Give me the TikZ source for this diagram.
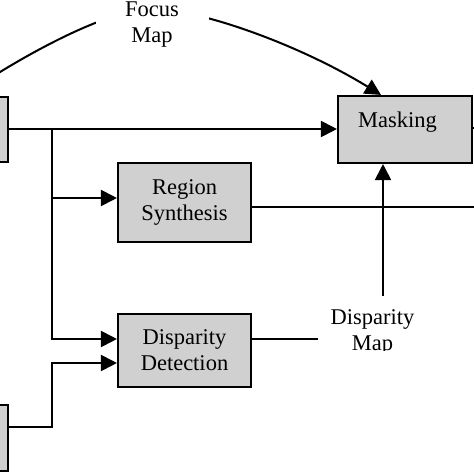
\documentclass[tikz,border=0pt]{standalone}
\usepackage{fontspec}
\setmainfont{Liberation Serif}
\usetikzlibrary{arrows.meta}
\definecolor{boxgray}{RGB}{208,208,208}
\begin{document}
\begin{tikzpicture}[x=1pt,y=-1pt,
  txt/.style={font=\fontsize{22.5}{26}\selectfont},
  box/.style={draw=black, fill=boxgray, line width=2.1pt, minimum width=133pt,
    minimum height=79pt, inner sep=0pt, align=center, txt},
  lbl/.style={align=center, inner sep=0pt, txt},
  conn/.style={line width=2pt},
  arr/.style={conn, -{Triangle[length=16pt,width=16pt]}}]
\useasboundingbox (0,0) rectangle (474,474);
\clip (0,0) rectangle (474,474);
% boxes
\node[box, minimum width=90pt, minimum height=65pt] (inA) at (-37,129.5) {};
\node[box, minimum width=90pt, minimum height=66pt] (inB) at (-37,438) {};
\node[box, minimum width=134pt, minimum height=67pt] (mask) at (405,129.5)
  {\raisebox{7pt}[15pt][5pt]{Masking}\hspace{15pt}};
\node[box] (rs) at (184.5,202.5) {Region\\Synthesis};
\node[box, minimum height=73pt] (dd) at (184.5,350.5) {Disparity\\Detection};
% coordinates
\coordinate (j1) at (52,129);
\coordinate (j3) at (52,363);
\coordinate (rsout) at (480,207);
\coordinate (mout) at (480,127.5);
\coordinate (dmL) at (318,339);
\coordinate (dmT) at (383,296);
\coordinate (fstart) at (-6,75.75);
% connectors
\draw[arr] ([yshift=0.5pt]inA.east) -- ([yshift=0.5pt]mask.west);
\draw[arr] (j1) |- ([yshift=11.5pt]dd.west);
\draw[arr] (j1 |- 0,198) -- ([yshift=4.5pt]rs.west);
\draw[arr] ([yshift=11pt]inB.east) -| (j3) -- ([yshift=-12.5pt]dd.west);
\draw[conn] ([yshift=-4.5pt]rs.east) -- (rsout);
\draw[conn] ([yshift=2pt]mask.east) -- (mout);
\draw[conn] ([yshift=11.5pt]dd.east) -- (dmL);
\draw[arr] (dmT) -- (dmT |- mask.south);
\draw[arr] (fstart) .. controls (36,49.5) and (110,9) .. (152,9)
  .. controls (200,9) and (300,45) .. ([xshift=-24pt]mask.north);
% labels
\node[lbl, fill=white, minimum width=113pt, minimum height=50pt] (focus) at (152,25) {Focus\\Map};
\begin{scope}
  \clip (300,290) rectangle (460,350);
  \node[lbl] (dmap) at (372.5,332.7) {Disparity\\Map};
\end{scope}
\end{tikzpicture}
\end{document}
